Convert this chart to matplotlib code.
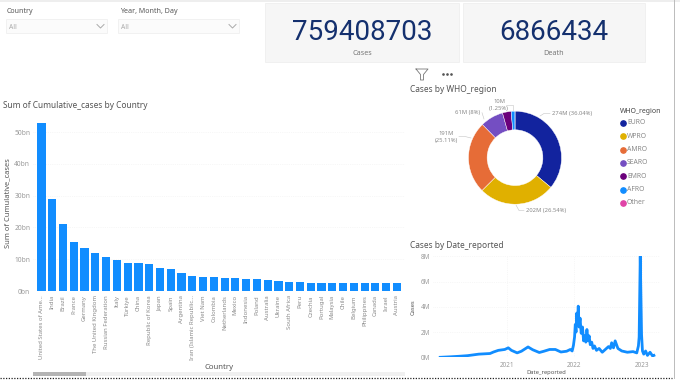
import matplotlib
matplotlib.use('Agg')
import matplotlib.pyplot as plt
import matplotlib.dates as mdates
from matplotlib.patches import Rectangle
import pandas as pd

W, H = 680, 389

countries = ['United States of Ame...', 'India', 'Brazil', 'France', 'Germany',
             'The United Kingdom', 'Russian Federation', 'Italy', 'Türkiye', 'China',
             'Republic of Korea', 'Japan', 'Spain', 'Argentina', 'Iran (Islamic Republic...',
             'Viet Nam', 'Colombia', 'Netherlands', 'Mexico', 'Indonesia', 'Poland',
             'Australia', 'Ukraine', 'South Africa', 'Peru', 'Czechia', 'Portugal',
             'Malaysia', 'Chile', 'Belgium', 'Philippines', 'Canada', 'Israel', 'Austria']
country_cases = [52.8, 28.9, 21.0, 15.3, 13.5, 12.0, 10.6, 9.9, 8.7, 8.7, 8.4, 7.1, 7.0,
                 5.6, 4.6, 4.4, 4.3, 4.1, 4.1, 3.8, 3.8, 3.6, 3.2, 2.8, 2.7, 2.6, 2.6,
                 2.6, 2.6, 2.5, 2.5, 2.4, 2.4, 2.4]
bar_ticks = [0, 10, 20, 30, 40, 50]

regions = ['EURO', 'WPRO', 'AMRO', 'SEARO', 'EMRO', 'AFRO', 'Other']
region_cases = [274, 202, 191, 61, 23, 10, 0]
region_colors = ['#12239E', '#E0B000', '#E66C37', '#744EC2', '#6B007B', '#118DFF', '#E044A7']

dates = ['2020-01-05', '2020-03-01', '2020-04-15', '2020-06-01', '2020-08-01', '2020-10-01',
         '2020-10-20', '2020-11-15', '2020-12-20', '2021-01-08', '2021-01-25', '2021-02-25',
         '2021-03-20', '2021-04-25', '2021-05-20', '2021-06-25', '2021-07-20', '2021-08-20',
         '2021-09-20', '2021-10-20', '2021-11-20', '2021-12-10', '2021-12-20', '2021-12-27',
         '2022-01-02', '2022-01-06', '2022-01-10', '2022-01-14', '2022-01-18', '2022-01-22',
         '2022-01-26', '2022-02-01', '2022-02-07', '2022-02-14', '2022-02-20', '2022-02-26',
         '2022-03-04', '2022-03-10', '2022-03-16', '2022-03-22', '2022-03-28', '2022-04-05',
         '2022-04-12', '2022-04-20', '2022-05-01', '2022-05-15', '2022-06-01', '2022-06-20',
         '2022-07-05', '2022-07-15', '2022-07-22', '2022-08-01', '2022-08-10', '2022-08-25',
         '2022-09-15', '2022-10-15', '2022-11-15', '2022-12-05', '2022-12-10', '2022-12-14',
         '2022-12-18', '2022-12-24', '2022-12-31', '2023-01-05', '2023-01-12', '2023-01-22',
         '2023-02-01', '2023-02-15', '2023-03-01', '2023-03-08']
daily_cases = [0.0, 0.04, 0.08, 0.13, 0.25, 0.3,
               0.42, 0.55, 0.62, 0.75, 0.55, 0.35,
               0.48, 0.82, 0.6, 0.38, 0.48, 0.62,
               0.62, 0.42, 0.48, 0.62, 0.5, 0.95,
               1.6, 2.6, 2.0, 3.5, 2.7, 4.05,
               2.4, 3.1, 1.9, 2.4, 1.3, 1.7,
               1.2, 2.2, 1.3, 1.7, 1.0, 1.2,
               0.7, 0.9, 0.55, 0.7, 0.4, 0.65,
               0.85, 0.7, 1.15, 0.75, 1.3, 0.7,
               0.5, 0.4, 0.45, 0.35, 0.65, 0.9,
               1.6, 8.0, 1.8, 0.5, 0.25, 0.5,
               0.15, 0.4, 0.1, 0.15]
line_ticks = [0, 2, 4, 6, 8]
year_ticks = ['2021-01-01', '2022-01-01', '2023-01-01']

plt.rcParams['font.family'] = ['Noto Sans', 'DejaVu Sans']
GREY = '#8a8a8a'
DARK = '#555555'
BLUE = '#118DFF'


def axes_px(fig, left, top, right, bottom):
    return fig.add_axes([left / W, 1 - bottom / H, (right - left) / W, (bottom - top) / H])


fig = plt.figure(figsize=(W / 100, H / 100), dpi=100, facecolor='white')

# page furniture, in pixel coordinates
page = fig.add_axes([0, 0, 1, 1], zorder=0)
page.set_xlim(0, W)
page.set_ylim(H, 0)
page.axis('off')
page.add_patch(Rectangle((0, 0), W, 2, color='#eeeeee', lw=0))

# slicers
for x0, x1, name, lab_x in [(6, 107, 'Country', 7), (118, 239, 'Year, Month, Day', 120)]:
    page.text(lab_x, 11, name, fontsize=5.1, color=DARK, va='center')
    page.add_patch(Rectangle((x0, 19), x1 - x0, 14, fc='#fbfbfb', ec='#f0f0f0', lw=0.6))
    page.text(x0 + 3, 27.5, 'All', fontsize=4.8, color='#aaaaaa', va='center')
    page.plot([x1 - 10, x1 - 6.5, x1 - 3], [24.5, 28, 24.5], color='#aaaaaa', lw=0.7)

# cards
for x0, x1, number, name in [(265, 459, '759408703', 'Cases'), (463, 645, '6866434', 'Death')]:
    page.add_patch(Rectangle((x0, 3), x1 - x0, 59, fc='#f6f6f6', ec='#efefef', lw=0.6))
    page.text((x0 + x1) / 2, 32, number, fontsize=20, color='#14306E', family='Roboto',
              ha='center', va='center')
    page.text((x0 + x1) / 2, 53.5, name, fontsize=5.2, color='#777777', ha='center', va='center')

# filter icon and dots
page.plot([416, 428, 423.5, 423.5, 420.5, 420.5, 416], [69, 69, 74.5, 80, 80, 74.5, 69],
          color='#777777', lw=0.6)
page.plot([443, 447, 451], [74, 74, 74], ls='none', marker='o', ms=0.9, color='#555555')

# frame lines, scroll bar
page.plot([674, 674], [0, 378], color='#bbbbbb', lw=0.7)
page.plot([0, 672], [378, 378], color='#222222', lw=0.9, ls=(0, (1, 1.2)))
page.add_patch(Rectangle((33, 372), 372, 3.5, color='#f0f0f0', lw=0))
page.add_patch(Rectangle((33, 372), 53, 3.5, color='#b4b4b4', lw=0))

# titles
page.text(3, 105, 'Sum of Cumulative_cases by Country', fontsize=6.0, color=DARK, va='center')
page.text(410.5, 89, 'Cases by WHO_region', fontsize=6.0, color=DARK, va='center')
page.text(410.5, 245, 'Cases by Date_reported', fontsize=6.0, color=DARK, va='center')

# bar chart
ax = axes_px(fig, 33, 123, 405, 291)
ax.patch.set_alpha(0)
pos = list(range(len(countries)))
ax.bar(pos, country_cases, width=0.76, color=BLUE, zorder=2)
ax.set_xlim(-0.79, 33.75)
ax.set_ylim(0, 52.9)
ax.set_yticks(bar_ticks, [f'{t}bn' for t in bar_ticks])
ax.set_xticks(pos, countries, rotation=90)
ax.tick_params(axis='y', length=0, labelsize=4.8, labelcolor='#9a9a9a', pad=2)
ax.tick_params(axis='x', length=0, labelsize=4.3, labelcolor=GREY, pad=3)
ax.grid(axis='y', color='#f0f0f0', lw=0.5, ls=':')
ax.set_axisbelow(True)
for s in ax.spines.values():
    s.set_visible(False)
page.text(8, 203, 'Sum of Cumulative_cases', fontsize=5.4, color=DARK, rotation=90,
          ha='center', va='center')
page.text(219.5, 367.5, 'Country', fontsize=5.6, color=DARK, ha='center', va='center')

# donut
pie_ax = axes_px(fig, 468.5, 111.2, 561.5, 204.2)
wedges, _ = pie_ax.pie(region_cases, colors=region_colors, startangle=90, counterclock=False,
                       radius=1, wedgeprops=dict(width=0.4, edgecolor='white', linewidth=0.3))
pie_ax.set_xlim(-1, 1)
pie_ax.set_ylim(-1, 1)

pie_labels = [
    (552, 113.5, 'left', '274M (36.04%)', [(540, 116), (544, 113.5), (550, 113.5)]),
    (526, 210.5, 'left', '202M (26.54%)', [(516, 205), (519, 210.5), (524, 210.5)]),
    (458, 137, 'right', '191M\n(25.11%)', [(471, 138), (465, 136.5), (459, 136.5)]),
    (480, 112.7, 'right', '61M (8%)', [(484, 119), (482, 112.7)]),
    (499, 105, 'center', '10M\n(1.25%)', [(513, 110), (513, 105), (506, 105)]),
]
for x, y, ha, text, leader in pie_labels:
    page.text(x, y, text, fontsize=4.2, color=GREY, ha=ha, va='center', linespacing=1.35,
              multialignment='center')
    page.plot([p[0] for p in leader], [p[1] for p in leader], color='#c4c4c4', lw=0.4)

# legend
page.text(619.5, 111.5, 'WHO_region', fontsize=5.0, color='#444444', weight='bold', va='center')
for i, (name, color) in enumerate(zip(regions, region_colors)):
    y = 122.8 + i * 13.35
    page.plot([622.5], [y], marker='o', ms=3.8, color=color, ls='none')
    page.text(627, y, name, fontsize=4.9, color=GREY, va='center')

# line chart
lx = axes_px(fig, 433, 255.5, 660, 357.3)
lx.patch.set_alpha(0)
lx.plot(pd.to_datetime(dates), daily_cases, color=BLUE, lw=2.0, solid_joinstyle='round')
lx.set_xlim(pd.Timestamp('2019-11-27'), pd.Timestamp('2023-04-10'))
lx.set_ylim(0, 8.06)
lx.set_yticks(line_ticks, [f'{t}M' for t in line_ticks])
lx.set_xticks(pd.to_datetime(year_ticks))
lx.xaxis.set_major_formatter(mdates.DateFormatter('%Y'))
lx.tick_params(axis='y', length=0, labelsize=4.6, labelcolor='#9a9a9a', pad=2)
lx.tick_params(axis='x', length=0, labelsize=4.6, labelcolor='#9a9a9a', pad=3.5)
lx.grid(color='#f0f0f0', lw=0.5, ls=':')
lx.set_axisbelow(True)
for s in lx.spines.values():
    s.set_visible(False)
page.text(413.5, 307, 'Cases', fontsize=4.2, color=DARK, rotation=90, ha='center', va='center')
page.text(546.5, 372.5, 'Date_reported', fontsize=4.2, color=DARK, ha='center', va='center')

fig.savefig('out.png', dpi=100)
